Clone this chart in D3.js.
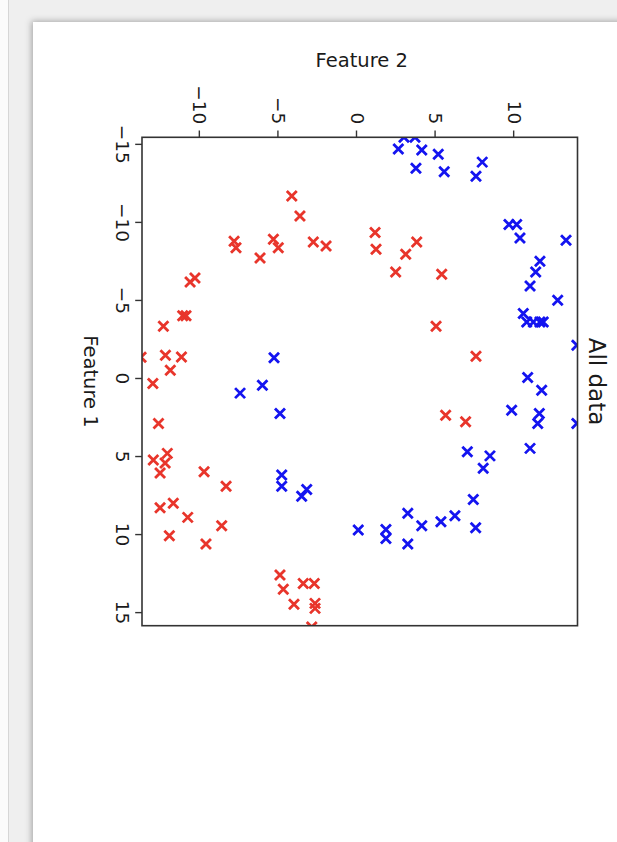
<!DOCTYPE html>
<html>
<head>
<meta charset="utf-8">
<script src="https://cdn.jsdelivr.net/npm/d3@7"></script>
<style>
  html, body { margin: 0; padding: 0; background: #f0f0f0; }
  svg { display: block; }
</style>
</head>
<body>
<svg id="chart" width="617" height="842"></svg>
<script>
// ---- data (Feature 1, Feature 2) ----
const redF1 = [-11.66,-10.38,-8.76,-8.35,-8.89,-8.35,-7.69,-8.71,-8.46,-9.32,-8.25,-6.41,-6.15,-3.98,-3.98,-3.32,-1.46,-1.35,-0.50,-1.33,0.35,2.91,5.26,4.83,5.44,6.08,6.01,6.93,8.32,8.03,8.93,10.11,10.64,9.47,12.62,13.54,14.50,13.16,13.16,14.44,14.76,15.95,-8.71,-7.93,-6.79,-6.65,-3.32,-1.40,2.38,2.81];
const redF2 = [-4.15,-3.63,-7.82,-7.70,-5.32,-5.01,-6.17,-2.78,-1.97,1.15,1.21,-10.31,-10.62,-11.09,-10.88,-12.32,-12.19,-11.17,-11.88,-13.74,-12.99,-12.63,-12.96,-12.07,-12.21,-12.53,-9.73,-8.33,-12.53,-11.69,-10.77,-11.94,-9.61,-8.61,-4.90,-4.69,-4.01,-3.42,-2.72,-2.67,-2.67,-2.88,3.80,3.10,2.46,5.39,5.03,7.57,5.64,6.91];
const blueF1 = [-1.29,0.46,0.97,2.27,6.22,6.93,7.14,7.57,9.74,9.70,10.28,8.67,10.64,9.47,9.21,8.83,7.78,9.60,4.73,4.99,5.79,4.51,2.06,2.27,2.91,2.91,0.78,-0.03,-2.10,-4.98,-4.13,-3.59,-3.59,-3.59,-3.59,-5.90,-6.79,-7.48,-8.82,-8.97,-9.83,-9.83,-13.83,-12.92,-13.22,-13.43,-14.33,-14.60,-14.67,-15.42,-15.42];
const blueF2 = [-5.28,-6.02,-7.44,-4.90,-4.79,-4.79,-3.20,-3.52,0.08,1.84,1.84,3.23,3.23,4.12,5.34,6.23,7.40,7.55,7.02,8.46,8.03,11.01,9.84,11.60,11.50,13.99,11.75,10.86,13.99,12.77,10.58,10.80,11.22,11.64,11.85,11.01,11.37,11.64,13.30,10.37,9.67,10.16,7.97,7.57,5.55,3.75,5.17,4.12,2.63,2.99,3.69];
const f1Ticks = [-15, -10, -5, 0, 5, 10, 15];
const f2Ticks = [-10, -5, 0, 5, 10];
const titleText = "All data";
const xLabelText = "Feature 1";
const yLabelText = "Feature 2";

const svg = d3.select("#chart");
const FONT = "DejaVu Sans, sans-serif";
const INK = "#1a1a1a";

// ---- viewer chrome ----
const defs = svg.append("defs");
const sh = defs.append("filter").attr("id", "shadow").attr("x", "-5%").attr("y", "-5%").attr("width", "110%").attr("height", "110%");
sh.append("feDropShadow").attr("dx", -1.5).attr("dy", -1).attr("stdDeviation", 3).attr("flood-color", "#000").attr("flood-opacity", 0.3);
svg.append("rect").attr("x", 0).attr("y", 0).attr("width", 617).attr("height", 842).attr("fill", "#efefef");
svg.append("rect").attr("x", 0).attr("y", 0).attr("width", 8).attr("height", 842).attr("fill", "#fbfbfb");
svg.append("line").attr("x1", 8.5).attr("x2", 8.5).attr("y1", 0).attr("y2", 842).attr("stroke", "#d6d6d6");
svg.append("rect").attr("x", 33).attr("y", 22).attr("width", 640).attr("height", 900).attr("fill", "#fff").attr("filter", "url(#shadow)");

// ---- chart, drawn in the original frame then rotated 90° clockwise ----
const W = 488.4, H = 435.5;   // original width (Feature 1) and height (Feature 2)
const x = d3.scaleLinear().domain([-15.42, 15.87]).range([0, W]);
const y = d3.scaleLinear().domain([-13.68, 14.03]).range([H, 0]);

const g = svg.append("g").attr("transform", "translate(577.5,137.3) rotate(90)");

defs.append("clipPath").attr("id", "plotclip").append("rect").attr("x", 0).attr("y", 0).attr("width", W).attr("height", H);

const tickLen = 6.8, tickPad = 6.3;
const xAxis = g.append("g").attr("transform", `translate(0,${H})`)
  .call(d3.axisBottom(x).tickValues(f1Ticks).tickSize(tickLen).tickPadding(tickPad));
const yAxis = g.append("g")
  .call(d3.axisLeft(y).tickValues(f2Ticks).tickSize(tickLen).tickPadding(tickPad));
[xAxis, yAxis].forEach(a => {
  a.select(".domain").remove();
  a.selectAll(".tick line").attr("stroke", "#333").attr("stroke-width", 1.4);
  a.selectAll(".tick text").attr("fill", INK).style("font-family", FONT).style("font-size", "18.5px");
});

const marker = (s) => `M${-s},${-s}L${s},${s}M${-s},${s}L${s},${-s}`;
const plot = g.append("g").attr("clip-path", "url(#plotclip)");
const red = redF1.map((v, i) => ({ f1: v, f2: redF2[i] }));
const blue = blueF1.map((v, i) => ({ f1: v, f2: blueF2[i] }));
plot.selectAll("path.red").data(red).join("path").attr("class", "red")
  .attr("d", marker(5.0)).attr("transform", d => `translate(${x(d.f1)},${y(d.f2)})`)
  .attr("stroke", "#e8352b").attr("stroke-width", 2.8).attr("fill", "none");
plot.selectAll("path.blue").data(blue).join("path").attr("class", "blue")
  .attr("d", marker(5.0)).attr("transform", d => `translate(${x(d.f1)},${y(d.f2)})`)
  .attr("stroke", "#1414f0").attr("stroke-width", 2.8).attr("fill", "none");

g.append("rect").attr("x", 0).attr("y", 0).attr("width", W).attr("height", H)
  .attr("fill", "none").attr("stroke", "#333").attr("stroke-width", 1.6);

// title (original top) -> right side
g.append("text").attr("x", W / 2).attr("y", -11).attr("text-anchor", "middle")
  .attr("fill", INK).style("font-family", FONT).style("font-size", "23px").text(titleText);
// x label (original bottom) -> left side
g.append("text").attr("x", W / 2).attr("y", 494).attr("text-anchor", "middle")
  .attr("fill", INK).style("font-family", FONT).style("font-size", "19.5px").text(xLabelText);
// y label (original left, rotated) -> top, horizontal
g.append("text").attr("transform", `translate(-70.3,${H / 2 - 2}) rotate(-90)`).attr("text-anchor", "middle")
  .attr("fill", INK).style("font-family", FONT).style("font-size", "19.5px").text(yLabelText);
</script>
</body>
</html>
